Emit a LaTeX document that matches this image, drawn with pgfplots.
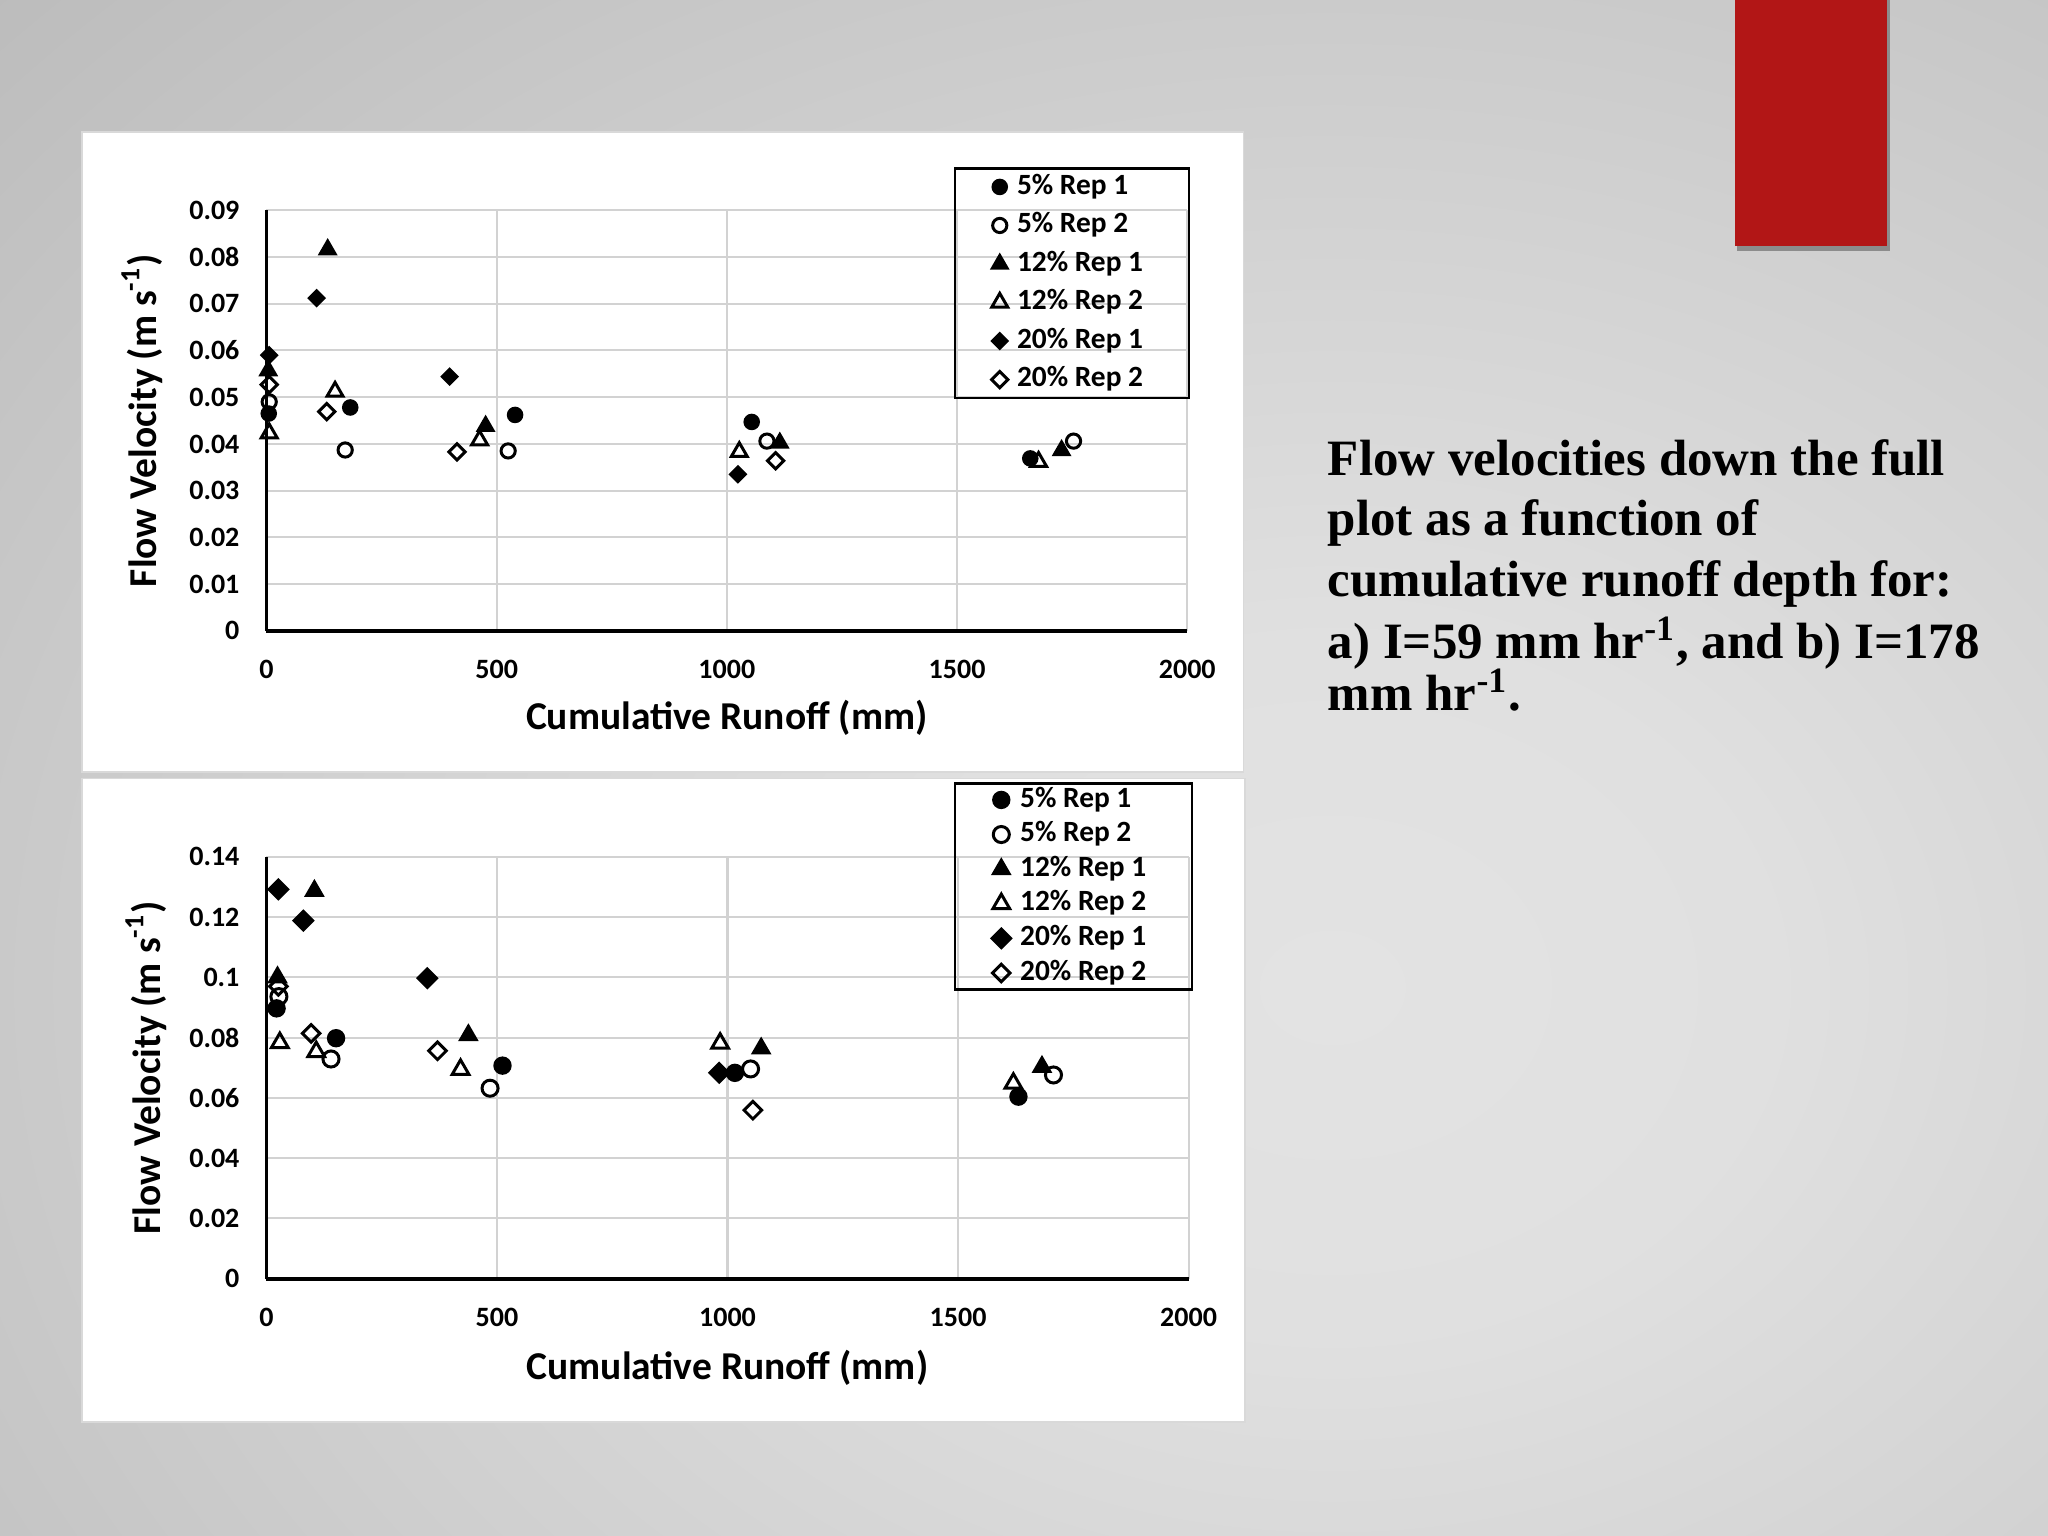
\documentclass[border=0pt]{standalone}
\usepackage{fontspec}
\setmainfont{Carlito}
\newfontfamily\serifbold{Liberation Serif}
\usepackage{pgfplots}
\pgfplotsset{compat=1.18}
\definecolor{bgin}{RGB}{227,227,227}
\definecolor{bgmid}{RGB}{224,224,224}
\definecolor{bgout}{RGB}{166,166,166}
\definecolor{bgfar}{RGB}{158,158,158}
\definecolor{slidered}{RGB}{178,22,22}
\definecolor{gridgray}{RGB}{210,210,210}
\pgfdeclareradialshading{slidebg}{\pgfpoint{0bp}{0bp}}{color(0bp)=(bgin); color(6bp)=(bgmid); color(37bp)=(bgout); color(60bp)=(bgfar)}
\pgfplotsset{
  slide/.style={
    scale only axis, anchor=south west,
    xmin=0, xmax=2000, xtick={0,500,1000,1500,2000},
    ymin=0, scaled y ticks=false, scaled x ticks=false,
    grid=major, grid style={draw=gridgray, line width=0.45pt},
    axis x line*=bottom, axis y line*=left,
    axis line style={line width=0.85pt, -},
    major tick length=0pt,
    tick label style={font=\fontsize{6.1}{7}\selectfont\bfseries},
    xticklabel style={inner sep=0pt, anchor=north, yshift=-2.2mm},
    yticklabel style={inner sep=0pt, anchor=east, xshift=-2.0mm},
    /pgf/number format/fixed, /pgf/number format/precision=2,
    /pgf/number format/1000 sep={}, /pgf/number format/assume math mode=true,
    label style={font=\fontsize{8.6}{10}\selectfont\bfseries},
    xlabel={Cumulative Runoff (mm)},
    ylabel={Flow Velocity (m s\textsuperscript{-1})},
    legend cell align=left,
    legend image code/.code={\draw[##1] plot coordinates {(0mm,0mm)};},
  },
  s5a/.style={only marks, mark=*, mark options={draw=black, fill=black, line width=0.5pt}},
  s5b/.style={only marks, mark=o, mark options={draw=black, line width=0.65pt}},
  s12a/.style={only marks, mark=triangle*, mark options={draw=black, fill=black, line width=0.5pt}},
  s12b/.style={only marks, mark=triangle, mark options={draw=black, line width=0.65pt}},
  s20a/.style={only marks, mark=square*, mark options={rotate=45, draw=black, fill=black, line width=0.5pt}},
  s20b/.style={only marks, mark=square, mark options={rotate=45, draw=black, line width=0.65pt}},
}
\begin{document}
\begin{tikzpicture}
\useasboundingbox (0,0) rectangle (156.8mm,117.6mm);
% slide background
\begin{scope}
\clip (0,0) rectangle (156.8mm,117.6mm);
\shade[shading=slidebg] (-38mm,-68mm) rectangle (242mm,152mm);
\end{scope}
% red tab with shadow
\fill[black!45] (133.0mm,98.4mm) rectangle (144.7mm,117.6mm);
\fill[slidered] (132.8mm,98.8mm) rectangle (144.5mm,117.6mm);
% white panels
\fill[white, draw=black!15, line width=0.4pt] (6.3mm,58.5mm) rectangle (95.2mm,107.5mm);
\fill[white, draw=black!15, line width=0.4pt] (6.3mm,8.7mm) rectangle (95.3mm,58.0mm);

% ---------- top chart: 59 mm/hr ----------
\begin{axis}[slide,
  at={(20.4mm,69.3mm)}, width=70.5mm, height=32.2mm,
  ymax=0.09, ytick={0,0.01,0.02,0.03,0.04,0.05,0.06,0.07,0.08,0.09},
  xlabel style={at={(axis description cs:0.5,-0.208)}, anchor=center},
  ylabel style={at={(axis description cs:-0.1348,0.5)}, anchor=center},
  legend style={at={(axis description cs:1.003,1.102)}, anchor=north east,
    draw=black, line width=0.55pt, fill=none,
    font=\fontsize{6.4}{7.5}\selectfont\bfseries,
    inner xsep=2.8mm, inner ysep=0.45mm, row sep=1.05mm,
    nodes={inner xsep=0.7mm, inner ysep=0pt, text height=1.5mm, text depth=0.4mm}},
]
\addplot[s5a, mark size=1.55pt] coordinates {(5,0.0465) (182,0.0478) (540,0.0462) (1054,0.0447) (1659,0.0369)};
\addlegendentry{5\% Rep 1}
\addplot[s5b, mark size=1.55pt] coordinates {(6,0.0490) (171,0.0387) (525,0.0385) (1087,0.0406) (1753,0.0406)};
\addlegendentry{5\% Rep 2}
\addplot[s12a, mark size=2.0pt] coordinates {(4,0.0557) (133,0.0816) (476,0.0438) (1115,0.0402) (1727,0.0386)};
\addlegendentry{12\% Rep 1}
\addplot[s12b, mark size=2.0pt] coordinates {(6,0.0423) (149,0.0512) (463,0.0408) (1027,0.0383) (1677,0.0362)};
\addlegendentry{12\% Rep 2}
\addplot[s20a, mark size=1.2pt] coordinates {(6,0.0590) (109,0.0712) (398,0.0544) (1024,0.0335)};
\addlegendentry{20\% Rep 1}
\addplot[s20b, mark size=1.25pt] coordinates {(6,0.0527) (131,0.0469) (414,0.0383) (1106,0.0364)};
\addlegendentry{20\% Rep 2}
\node[font=\fontsize{8.6}{10}\selectfont\bfseries] at (axis description cs:0.380,1.096) {59 mm hr\textsuperscript{-1}};
\end{axis}

% ---------- bottom chart: 178 mm/hr ----------
\begin{axis}[slide,
  at={(20.4mm,19.7mm)}, width=70.6mm, height=32.3mm,
  ymax=0.14, ytick={0,0.02,0.04,0.06,0.08,0.1,0.12,0.14},
  xlabel style={at={(axis description cs:0.5,-0.2105)}, anchor=center},
  ylabel style={at={(axis description cs:-0.1303,0.5)}, anchor=center},
  legend style={at={(axis description cs:1.005,1.1765)}, anchor=north east,
    draw=black, line width=0.55pt, fill=none,
    font=\fontsize{6.4}{7.5}\selectfont\bfseries,
    inner xsep=2.8mm, inner ysep=0.3mm, row sep=0.75mm,
    nodes={inner xsep=0.7mm, inner ysep=0pt, text height=1.5mm, text depth=0.4mm}},
]
\addplot[s5a, mark size=1.75pt] coordinates {(22,0.0897) (151,0.0798) (512,0.0707) (1016,0.0683) (1631,0.0604)};
\addlegendentry{5\% Rep 1}
\addplot[s5b, mark size=1.75pt] coordinates {(27,0.0936) (140,0.0729) (485,0.0632) (1050,0.0696) (1707,0.0676)};
\addlegendentry{5\% Rep 2}
\addplot[s12a, mark size=2.1pt] coordinates {(24,0.1000) (104,0.1287) (438,0.0808) (1073,0.0764) (1682,0.0703)};
\addlegendentry{12\% Rep 1}
\addplot[s12b, mark size=2.1pt] coordinates {(29,0.0783) (108,0.0753) (421,0.0694) (984,0.0781) (1620,0.0648)};
\addlegendentry{12\% Rep 2}
\addplot[s20a, mark size=1.5pt] coordinates {(26,0.1292) (80,0.1188) (349,0.0997) (982,0.0683)};
\addlegendentry{20\% Rep 1}
\addplot[s20b, mark size=1.35pt] coordinates {(26,0.0970) (97,0.0814) (371,0.0756) (1055,0.0559)};
\addlegendentry{20\% Rep 2}
\node[font=\fontsize{8.6}{10}\selectfont\bfseries] at (axis description cs:0.391,1.099) {178 mm hr\textsuperscript{-1}};
\end{axis}

% ---------- caption text ----------
\begin{scope}[every node/.style={anchor=base west, inner sep=0pt, font=\serifbold\bfseries\fontsize{11.1}{13}\selectfont}]
\node at (101.6mm,81.2mm) {Flow velocities down the full};
\node at (101.6mm,76.6mm) {plot as a function of};
\node at (101.6mm,71.9mm) {cumulative runoff depth for:};
\node at (101.6mm,67.2mm) {a) I=59 mm hr\textsuperscript{-1}, and b) I=178};
\node at (101.6mm,63.2mm) {mm hr\textsuperscript{-1}.};
\end{scope}
\end{tikzpicture}
\end{document}
